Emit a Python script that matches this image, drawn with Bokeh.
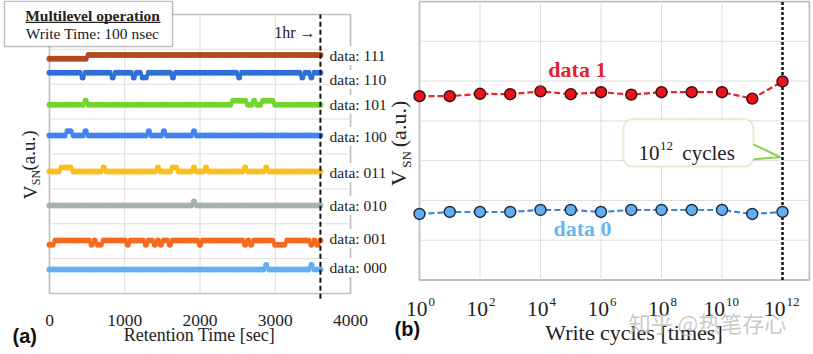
import math
from bokeh.plotting import figure
from bokeh.models import Range1d, Label, BoxAnnotation, LogScale
from bokeh.embed import file_html
from bokeh.resources import INLINE
from bokeh.core.properties import value

# ---------------- panel (a) data ----------------
sample_step_sec = 40
retention_time_sec = list(range(0, 3601, sample_step_sec))
one_hour_sec = 3600
codes = ["111", "110", "101", "100", "011", "010", "001", "000"]
base_levels = [6.84, 6.33, 5.41, 4.53, 3.50, 2.52, 1.52, 0.69]
step_sizes = [0.11, 0.14, 0.12, 0.12, 0.11, 0.12, 0.12, 0.13]
# one char per sample: '0' base level, '+' one step up, '-' one step down
patterns = [
    "---------- ---0000000 0000000000 0000000000 0000000000 0000000000 0000000000 0000000000 0000000000 0",
    "0000000000 0-00000000 0-000000-0 0--0000000 0-00000000 0000000000 000-000000 0000000000 0000-00-00 0",
    "0000000000 00+0000000 0000000000 0000000000 0000000000 0000000000 0+++++00+0 0++++00000 0000000000 0",
    "000000++00 00+0000000 0000000000 000+0000+0 00000000+0 0000000000 0000000000 0000000000 0000000000 0",
    "0000++++00 00000000+0 0000000000 000000+000 0++00000+0 00+0000000 00000+0000 00+0000000 0000000000 0",
    "0000000000 0000000000 0000000000 0000000000 00000000+0 0000000000 0000000000 0000000000 0000000000 0",
    "--00000000 0000-0--00 000000-000 00-00-0-00 -000000000 -000000000 00000-0-00 00000----0 0000000-0- 0",
    "0000000000 0000000000 0000000000 0000000000 0000000000 0000000000 0000000000 00+0000000 0000000+00 0",
]
trace_colors = ["#b3481d", "#2f6fd8", "#72d52e", "#4283f2", "#fdbd1c", "#a9b0b0", "#f66a1e", "#63aff2"]
a_ticks = [0, 1000, 2000, 3000, 4000]
a_xmax, a_ymax = 4000, 8
a_grid_x = [1000, 2000, 3000]
a_grid_y = [1, 2, 3, 4, 5, 6, 7]

# ---------------- panel (b) data ----------------
write_cycles = [1, 1e1, 1e2, 1e3, 1e4, 1e5, 1e6, 1e7, 1e8, 1e9, 1e10, 1e11, 1e12]
vsn_data1 = [4.62, 4.62, 4.68, 4.67, 4.74, 4.67, 4.72, 4.66, 4.72, 4.72, 4.72, 4.56, 4.99]
vsn_data0 = [1.66, 1.71, 1.71, 1.71, 1.76, 1.76, 1.71, 1.76, 1.76, 1.76, 1.76, 1.66, 1.71]
b_ticks = [1, 1e2, 1e4, 1e6, 1e8, 1e10, 1e12]
b_tick_exponents = ["0", "2", "4", "6", "8", "10", "12"]
b_grid_x = [1e2, 1e4, 1e6, 1e8, 1e10]
b_grid_y = [1, 2, 3, 4, 5, 6]
b_xmax, b_ymax = 10 ** 12.89, 7
endurance_cycles = 1e12

SERIF = "Liberation Serif"
INK = "#222222"
GRID = "#dedede"
FRAME = "#2a2a2a"
H = 354


def decode(pattern, base, step):
    s = pattern.replace(" ", "")
    return [base + (step if c == "+" else -step if c == "-" else 0.0) for c in s]


# one canvas; panel (a) uses the default linear ranges, panel (b) the extra log/linear ranges "b"
p = figure(width=813, height=H, x_range=Range1d(-651.2, 10152.8), y_range=Range1d(-1.749, 8.401),
           x_axis_location=None, y_axis_location=None, title=None, min_border=0,
           output_backend="svg", toolbar_location=None)
p.extra_x_ranges = {"b": Range1d(10 ** (-419 / 30.25), 10 ** (394 / 30.25))}
p.extra_x_scales = {"b": LogScale()}
p.extra_y_ranges = {"b": Range1d(-1.872, 7.025)}
p.outline_line_color = None
p.xgrid.visible = False
p.ygrid.visible = False
B = dict(x_range_name="b", y_range_name="b")


def slabel(x, py, text, size, **kw):
    opts = dict(text_font=SERIF, text_color=INK, text_align="center", text_baseline="middle")
    opts.update(kw)
    p.add_layout(Label(x=x, y=H - py, x_units="screen", y_units="screen", text=text,
                       text_font_size=size, **opts))


# ================= panel (a) =================
p.segment(x0=a_grid_x, y0=[0] * len(a_grid_x), x1=a_grid_x, y1=[a_ymax] * len(a_grid_x),
          line_color=GRID, line_width=1)
p.segment(x0=[0] * len(a_grid_y), y0=a_grid_y, x1=[a_xmax] * len(a_grid_y), y1=a_grid_y,
          line_color=GRID, line_width=1)
p.add_layout(BoxAnnotation(left=0, right=a_xmax, bottom=0, top=a_ymax, fill_color=None,
                           line_color=FRAME, line_width=1.7, level="underlay"))

for pat, base, step, col in zip(patterns, base_levels, step_sizes, trace_colors):
    ys = decode(pat, base, step)
    p.line(retention_time_sec, ys, line_color=col, line_width=3.5)
    p.scatter(retention_time_sec, ys, marker="circle", size=6, fill_color=col, line_color=None)

p.segment(x0=[one_hour_sec], y0=[-0.15], x1=[one_hour_sec], y1=[a_ymax], line_color="#111111",
          line_dash="5 3", line_width=2)

p.text(x=a_ticks, y=[0] * len(a_ticks), text=[str(t) for t in a_ticks], y_offset=27,
       text_align="center", text_baseline="alphabetic", text_font=value(SERIF),
       text_font_size="17.5px", text_color=INK)

label_py = [55, 79, 104, 136, 172, 205, 238, 267]
for code, py in zip(codes, label_py):
    p.add_layout(Label(x=328, y=H - py, x_units="screen", y_units="screen", text="data: " + code,
                       text_font=SERIF, text_font_size="15.5px", text_color=INK,
                       text_baseline="middle", text_align="left",
                       background_fill_color="white", padding=1))

slabel(315, 32, "1hr →", "16px", text_align="right")

# title box
p.add_layout(BoxAnnotation(left=4, right=172, top=H - 0.7, bottom=H - 46,
                           left_units="screen", right_units="screen",
                           top_units="screen", bottom_units="screen",
                           fill_color="white", fill_alpha=1.0, line_color=FRAME, line_width=1.5))
slabel(92, 15, "Multilevel operation", "15.5px", text_font_style="bold")
p.add_layout(BoxAnnotation(left=25, right=160, top=H - 21.3, bottom=H - 22.6,
                           left_units="screen", right_units="screen",
                           top_units="screen", bottom_units="screen",
                           fill_color=INK, fill_alpha=1.0, line_color=None))
slabel(92, 33, "Write Time: 100 nsec", "15.5px")

# y label V_SN (a.u.) and x label
slabel(30, 192, "V", "19px", angle=math.pi / 2)
slabel(35, 177, "SN", "12px", angle=math.pi / 2)
slabel(28, 150, "(a.u.)", "19px", angle=math.pi / 2)
slabel(199, 334, "Retention Time [sec]", "18px")
slabel(12, 335, "(a)", "20px", text_font="Liberation Sans", text_font_style="bold",
       text_align="left", text_color="#111111")

# ================= panel (b) =================
p.segment(x0=b_grid_x, y0=[0] * len(b_grid_x), x1=b_grid_x, y1=[b_ymax] * len(b_grid_x),
          line_color=GRID, line_width=1, **B)
p.segment(x0=[1] * len(b_grid_y), y0=b_grid_y, x1=[b_xmax] * len(b_grid_y), y1=b_grid_y,
          line_color=GRID, line_width=1, **B)
p.add_layout(BoxAnnotation(left=1, right=b_xmax, bottom=0, top=b_ymax, fill_color=None,
                           line_color=FRAME, line_width=1.8, level="underlay", **B))

p.segment(x0=[endurance_cycles], y0=[0], x1=[endurance_cycles], y1=[b_ymax], line_color="#111111",
          line_dash="3 2", line_width=2.5, **B)

p.line(write_cycles, vsn_data1, line_color="#e3242b", line_dash="6 3", line_width=2.2, **B)
p.scatter(write_cycles, vsn_data1, marker="circle", size=11, fill_color="#e8141c",
          line_color="#3b0d0d", line_width=1.4, **B)
p.line(write_cycles, vsn_data0, line_color="#3f86d8", line_dash="6 3", line_width=2.2, **B)
p.scatter(write_cycles, vsn_data0, marker="circle", size=11, fill_color="#62aef0",
          line_color="#1c2b3d", line_width=1.4, **B)

# tick labels 10^k
base_off = [8 if len(e) == 1 else 3 for e in b_tick_exponents]
p.text(x=b_ticks, y=[0] * len(b_ticks), text=["10"] * len(b_ticks), x_offset=base_off, y_offset=29,
       text_align="right", text_baseline="alphabetic", text_font=value(SERIF),
       text_font_size="21.5px", text_color=INK, **B)
p.text(x=b_ticks, y=[0] * len(b_ticks), text=b_tick_exponents, x_offset=[o + 1 for o in base_off],
       y_offset=22, text_align="left", text_baseline="alphabetic", text_font=value(SERIF),
       text_font_size="13px", text_color=INK, **B)

p.add_layout(Label(x=10 ** 5.22, y=5.29, text="data 1", text_font=SERIF, text_font_size="22px",
                   text_font_style="bold", text_color="#e3242b", text_align="center",
                   text_baseline="middle", **B))
p.add_layout(Label(x=10 ** 5.39, y=1.30, text="data 0", text_font=SERIF, text_font_size="22px",
                   text_font_style="bold", text_color="#6cb6ec", text_align="center",
                   text_baseline="middle", **B))

# callout
p.add_layout(BoxAnnotation(left=10 ** 6.74, right=10 ** 11.04, top=4.04, bottom=2.85,
                           fill_color="white", fill_alpha=1.0, line_color="#8fcf55",
                           line_width=2, border_radius=9, **B))
ptr = p.patch([10 ** 10.9, 10 ** 11.93, 10 ** 10.9], [3.41, 3.086, 3.036], fill_color="white",
              line_color=None, **B)
ptr.level = "overlay"
ptr_edge = p.multi_line([[10 ** 11.04, 10 ** 11.93, 10 ** 11.04]], [[3.41, 3.086, 3.036]],
                        line_color="#8fcf55", line_width=2, **B)
ptr_edge.level = "overlay"
for txt, xd, yd, fs in [("10", 10 ** 7.24, 3.19, "21px"), ("12", 10 ** 7.95, 3.36, "13px"),
                        ("cycles", 10 ** 8.69, 3.19, "21px")]:
    p.add_layout(Label(x=xd, y=yd, text=txt, text_font=SERIF, text_font_size=fs, text_color=INK,
                       text_align="left", text_baseline="alphabetic", level="overlay", **B))

# y label V_SN (a.u.), x label, panel letter, watermark
slabel(397.5, 177.5, "V", "22px", angle=math.pi / 2)
slabel(406, 159, "SN", "13px", angle=math.pi / 2)
slabel(398, 123.5, "(a.u.)", "22px", angle=math.pi / 2)
slabel(633.5, 332, "Write cycles [times]", "22px")
slabel(394, 328, "(b)", "20px", text_font="Liberation Sans", text_font_style="bold",
       text_align="left", text_color="#111111")
slabel(707, 321, "知乎 @热笔存心", "22px", text_font="Noto Sans CJK SC", text_color="#b8b8b8",
       text_alpha=0.75)

open("out.html", "w").write(file_html(p, INLINE))
